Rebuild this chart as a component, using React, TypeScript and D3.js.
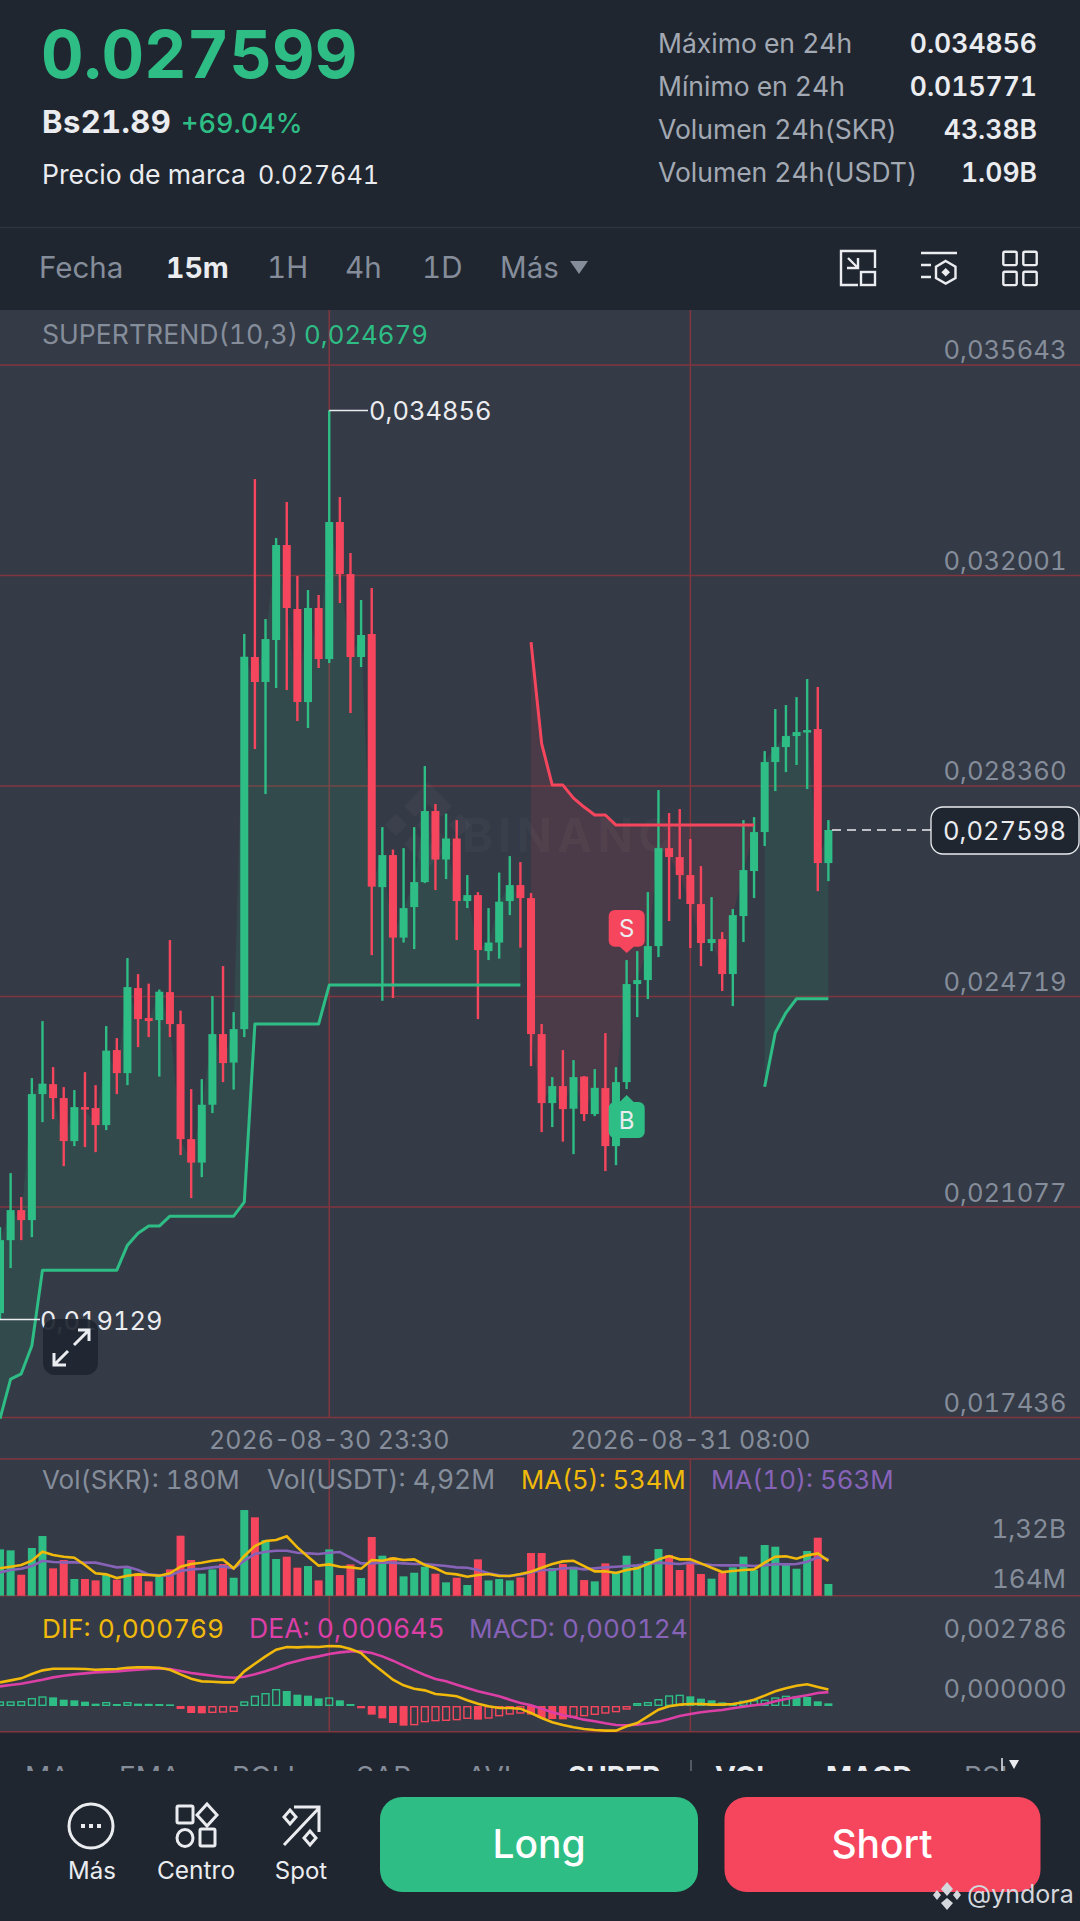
import * as d3 from "d3";

// prices are kept in millionths of USDT, the labels divide them back
const opens = [
  19241, 20504, 21023, 20850, 23030, 23202, 22961, 22217, 22805, 22788,
  22494, 23791, 23393, 24864, 24345, 24310, 24794, 24241, 22251, 21845,
  22846, 24068, 23575, 24154, 30590, 30158, 30884, 32527, 31420, 29811,
  31438, 30555, 32925, 32025, 30590, 30988, 26610, 27164, 25737, 26265,
  26697, 27926, 27087, 27451, 26369, 26472, 25503, 25651, 26369, 26645,
  26420, 24068, 22874, 23168, 22777, 23333, 22684, 23134, 22130, 23237,
  24933, 25002, 25590, 27285, 27130, 26818, 26317, 25642, 25711, 25106,
  26109, 26888, 27562, 28773, 29033, 29223, 29292, 29344, 27026,
];
const closes = [
  20504, 21023, 20850, 23030, 23211, 22961, 22217, 22805, 22770, 22494,
  23782, 23393, 24881, 24327, 24293, 24801, 24241, 22251, 21845, 22846,
  24068, 23566, 24154, 30595, 30158, 30901, 32527, 31438, 29811, 31438,
  30555, 32925, 32025, 30590, 30971, 26618, 27164, 25737, 26247, 26697,
  27926, 27087, 27451, 26369, 26472, 25521, 25651, 26358, 26645, 26420,
  24068, 22874, 23168, 22770, 23324, 22684, 23138, 22130, 23237, 24933,
  25002, 25590, 27285, 27130, 26818, 26317, 25642, 25711, 25106, 26126,
  26905, 27562, 28773, 29033, 29223, 29292, 29327, 27026, 27598,
];
const highs = [
  20729, 21663, 21248, 23307, 24293, 23497, 23151, 23099, 23410, 23185,
  24206, 23999, 25383, 25106, 24941, 24838, 25694, 24474, 23116, 23289,
  24725, 25244, 24448, 30988, 33668, 31247, 32648, 33271, 31991, 31749,
  31663, 34856, 33357, 32389, 31576, 31783, 27648, 27260, 27285, 27648,
  28704, 28047, 27882, 27769, 26818, 26524, 26247, 26862, 27147, 27043,
  26507, 24241, 23324, 23791, 23618, 23341, 23462, 24085, 23497, 25348,
  25503, 26524, 28289, 27891, 27961, 27441, 26974, 26438, 25832, 26230,
  27769, 27821, 28963, 29690, 29759, 29897, 30209, 30071, 27769,
];
const lows = [
  19129, 20020, 20504, 20556, 22545, 22597, 21784, 22130, 22113, 22026,
  22407, 23030, 23185, 23843, 24016, 23333, 24016, 21975, 21231, 21594,
  22701, 23237, 23108, 24016, 28998, 28220, 30054, 30019, 29482, 29362,
  30400, 30486, 31524, 29621, 30417, 25434, 24644, 24691, 25651, 25538,
  26680, 26559, 26749, 25694, 26247, 24327, 25348, 25373, 26126, 25564,
  23514, 22372, 22459, 22208, 21991, 22563, 22649, 21698, 21801, 23116,
  24362, 24673, 25400, 26023, 26403, 25556, 25244, 25503, 24812, 24552,
  25660, 26420, 27320, 28271, 28600, 28722, 28306, 26541, 26714,
];

// supertrend runs: up from candle 0, down from 50, up again from 72
const superUpA = [
  17415, 18100, 18192, 18677, 19985, 19985, 19985, 19985, 19985, 19985,
  19985, 19985, 20417, 20625, 20747, 20747, 20919, 20919, 20919, 20919,
  20919, 20919, 20919, 21161, 24241, 24241, 24241, 24241, 24241, 24241,
  24241, 24915, 24915, 24915, 24915, 24915, 24915, 24915, 24915, 24915,
  24915, 24915, 24915, 24915, 24915, 24915, 24915, 24915, 24915, 24915,
];
const superDown = [
  30849, 29093, 28375, 28375, 28150, 27995, 27857, 27857, 27683, 27683,
  27683, 27683, 27683, 27683, 27683, 27683, 27683, 27683, 27683, 27683,
  27683, 27683,
];
const superUpB = [23156, 24090, 24436, 24679, 24679, 24679, 24679];

// volume in millions of SKR
const volumes = [
  711, 696, 322, 732, 916, 420, 548, 256, 256, 235, 317, 246, 420, 343, 220,
  292, 404, 921, 548, 338, 404, 486, 276, 1315, 1203, 855, 563, 599, 430, 455,
  235, 711, 317, 481, 271, 901, 614, 588, 297, 353, 445, 338, 205, 276, 164,
  558, 235, 256, 235, 281, 655, 655, 425, 486, 445, 240, 220, 496, 368, 614,
  471, 532, 716, 624, 394, 522, 333, 261, 353, 435, 599, 394, 778, 752, 496,
  414, 686, 890, 180,
];
const volMa5 = [
  420, 445, 471, 537, 675, 624, 599, 583, 471, 343, 327, 271, 307, 327, 317,
  307, 343, 445, 486, 507, 537, 553, 420, 609, 762, 839, 855, 911, 742, 599,
  461, 481, 445, 435, 414, 548, 537, 573, 548, 558, 471, 420, 343, 327, 292,
  317, 333, 302, 302, 333, 368, 430, 486, 527, 537, 455, 374, 374, 348, 394,
  420, 486, 558, 609, 558, 558, 496, 430, 363, 379, 394, 404, 507, 599, 604,
  568, 619, 650, 534,
];
const volMa10 = [
  358, 394, 414, 455, 537, 517, 512, 512, 507, 507, 471, 435, 445, 394, 327,
  312, 307, 379, 404, 414, 435, 450, 420, 537, 640, 675, 691, 691, 660, 650,
  640, 660, 670, 583, 496, 496, 512, 507, 496, 486, 486, 471, 455, 435, 430,
  394, 343, 312, 302, 322, 358, 394, 394, 420, 425, 404, 420, 435, 445, 455,
  466, 486, 507, 496, 486, 507, 486, 471, 466, 466, 466, 455, 466, 486, 481,
  486, 522, 588, 563,
];

// macd, millionths as well
const dif = [
  1098, 1191, 1284, 1485, 1655, 1733, 1733, 1733, 1717, 1686, 1702, 1717, 1779,
  1795, 1795, 1779, 1686, 1470, 1269, 1145, 1129, 1098, 1098, 1609, 1965, 2305,
  2614, 2738, 2723, 2754, 2738, 2786, 2770, 2645, 2460, 1996, 1609, 1222, 959,
  804, 727, 557, 511, 449, 263, 108, -15, -93, -93, -124, -325, -557, -758,
  -882, -990, -1067, -1114, -1145, -1145, -944, -789, -480, -170, -15, 62, 93,
  93, 62, 62, 93, 170, 294, 480, 681, 820, 944, 1006, 882, 769,
];
const dea = [
  913, 975, 1036, 1129, 1222, 1330, 1408, 1470, 1516, 1562, 1578, 1609, 1655,
  1686, 1717, 1748, 1717, 1624, 1532, 1470, 1408, 1346, 1315, 1361, 1470, 1609,
  1779, 1965, 2088, 2212, 2305, 2413, 2491, 2537, 2537, 2460, 2305, 2104, 1872,
  1655, 1439, 1253, 1145, 990, 835, 681, 572, 449, 294, 139, 31, -124, -294,
  -418, -526, -634, -712, -804, -882, -897, -866, -804, -727, -603, -464, -371,
  -294, -232, -186, -108, -31, 31, 93, 217, 325, 418, 495, 603, 645,
];
const macdHist = [
  217, 217, 232, 371, 449, 402, 294, 263, 201, 108, 186, 93, 186, 108, 100, 93,
  77, -139, -325, -340, -325, -310, -278, 217, 480, 603, 789, 696, 526, 480,
  356, 402, 263, 93, -108, -402, -572, -789, -913, -897, -758, -712, -696, -665,
  -603, -634, -588, -480, -402, -356, -402, -557, -603, -619, -510, -480, -418,
  -356, -294, -170, 139, 186, 325, 495, 526, 449, 340, 263, 170, 139, 248, 278,
  294, 402, 480, 449, 418, 217, 124,
];

const priceTicks = [35643, 32001, 28360, 24719, 21077, 17436];
const timeLabels = [
  { i: 31, text: "2026-08-30 23:30" },
  { i: 65, text: "2026-08-31 08:00" },
];
const statsRows = [
  ["Máximo en 24h", "0.034856"],
  ["Mínimo en 24h", "0.015771"],
  ["Volumen 24h(SKR)", "43.38B"],
  ["Volumen 24h(USDT)", "1.09B"],
];
const periods = ["Fecha", "15m", "1H", "4h", "1D", "Más"];
const periodX = [39, 166, 267, 345, 422, 500];
const indicatorTabs = ["MA", "EMA", "BOLL", "SAR", "AVL", "SUPER", "VOL", "MACD", "RSI"];
const indicatorX = [25, 119, 232, 356, 467, 568, 715, 826, 964];

const GREEN = "#2ebd85";
const RED = "#f6465d";
const BG = "#1f2630";
const PANEL = "#343a46";
const GRID = "#80363f";
const MUTED = "#858d9a";
const WHITE = "#eaecef";
const ORANGE = "#f0b90b";
const PURPLE = "#8763b8";
const PINK = "#dc3fa6";
const FONT = 'Inter, "Noto Sans", sans-serif';

const width = 1080;
const height = 1921;
const panelTop = 310;
const panelBottom = 1732;

const x = d3.scaleLinear([0, 78], [0, 828.4]);
const y = d3.scaleLinear([17436, 35643], [1417.5, 364.9]);
const volY = d3.scaleLinear([0, 1320], [1595.7, 1509.7]);
const macdY = d3.scaleLinear([0, 2786], [1706, 1646]);

const comma6 = (v: number) => d3.format(".6f")(v / 1e6).replace(".", ",");

const seriesLine = (scale: d3.ScaleLinear<number, number>, start = 0) =>
  d3.line<number>((_, i) => x(i + start), d => scale(d));

const trendArea = (start: number) =>
  d3.area<number>()
    .x((_, i) => x(i + start))
    .y0(d => y(d))
    .y1((_, i) => y(closes[i + start]));

const bodyWidth = 8;
const wickWidth = 2.4;

export default function App() {
  const candles = d3.range(opens.length);
  const iconStroke = { fill: "none", stroke: WHITE, strokeWidth: 2.4 };
  const barIconStroke = { fill: "none", stroke: WHITE, strokeWidth: 3 };

  return (
    <svg
      width={width}
      height={height}
      viewBox={`0 0 ${width} ${height}`}
      style={{ position: "absolute", left: 0, top: 0, display: "block", fontFeatureSettings: '"tnum"' }}
      fontFamily={FONT}
    >
      <defs>
        <clipPath id="tabs-clip">
          <rect x={0} y={1733} width={width} height={38} />
        </clipPath>
      </defs>
      <rect width={width} height={height} fill={BG} />

      {/* header */}
      <text x={41} y={78} fontSize={66} fontWeight={700} fill={GREEN}>0.027599</text>
      <text x={42} y={133} fontSize={31} fontWeight={700} letterSpacing={0.4} fill={WHITE}>Bs21.89</text>
      <text x={181} y={133} fontSize={27} fontWeight={500} fill={GREEN}>+69.04%</text>
      <text x={42} y={184} fontSize={26.6} fill={WHITE}>Precio de marca</text>
      <text x={258} y={184} fontSize={25.2} fill={WHITE}>0.027641</text>
      {statsRows.map(([label, value], i) => (
        <g key={label}>
          <text x={658} y={53 + i * 43} fontSize={26.5} fill="#a3a9b3">{label}</text>
          <text x={1037} y={53 + i * 43} fontSize={26.5} fontWeight={600} fill={WHITE} textAnchor="end">{value}</text>
        </g>
      ))}
      <line x1={0} x2={width} y1={227.5} y2={227.5} stroke="#2e3540" strokeWidth={1.5} />

      {/* period toolbar */}
      {periods.map((p, i) => (
        <text key={p} x={periodX[i]} y={278} fontSize={p === "15m" ? 28.5 : 29.5} fontWeight={p === "15m" ? 700 : 400}
          fill={p === "15m" ? WHITE : MUTED}>{p}</text>
      ))}
      <path d="M570 261H588L579 274Z" fill={MUTED} />
      <g {...iconStroke}>
        <path d="M875 268V251H841V285H858" />
        <rect x={861} y={272} width={14} height={13} />
        <path d="M848 258L858 268M847 268H858V258" />
        <path d="M921 253H957M921 265H931M921 277H931" />
        <path d="M945.7 261L955.5 266.6V278L945.7 283.6L936 278V266.6Z" />
        <rect x={1003.3} y={251.7} width={13.4} height={13.4} rx={1.5} />
        <rect x={1023.3} y={251.7} width={13.4} height={13.4} rx={1.5} />
        <rect x={1003.3} y={271.7} width={13.4} height={13.4} rx={1.5} />
        <rect x={1023.3} y={271.7} width={13.4} height={13.4} rx={1.5} />
      </g>
      <path d="M945.7 268L950 272.3L945.7 276.6L941.4 272.3Z" fill={WHITE} />

      {/* chart panel and grid */}
      <rect x={0} y={panelTop} width={width} height={panelBottom - panelTop} fill={PANEL} />
      {priceTicks.map(t => (
        <line key={t} x1={0} x2={width} y1={y(t)} y2={y(t)} stroke={GRID} strokeWidth={1.5} />
      ))}
      {[1459, 1595.7, 1731.7].map(v => (
        <line key={v} x1={0} x2={width} y1={v} y2={v} stroke={GRID} strokeWidth={1.5} />
      ))}
      {timeLabels.map(t => (
        <g key={t.i} stroke={GRID} strokeWidth={1.5}>
          <line x1={x(t.i)} x2={x(t.i)} y1={panelTop} y2={y(17436)} />
          <line x1={x(t.i)} x2={x(t.i)} y1={1459} y2={1731.7} />
        </g>
      ))}

      {/* faint exchange mark */}
      <g fill="#fff" fillOpacity={0.035}>
        <path d="M428 782L452 806L441 817L428 804L415 817L404 806ZM396 814L407 825L396 836L385 825ZM460 814L471 825L460 836L449 825ZM428 812L439 825L428 838L417 825ZM415 833L428 846L441 833L452 844L428 868L404 844Z" />
        <text x={462} y={852} fontSize={47} fontWeight={700} letterSpacing={5}>BINANC</text>
      </g>

      {/* supertrend bands */}
      <path d={trendArea(0)(superUpA) ?? ""} fill={GREEN} fillOpacity={0.13} />
      <path d={trendArea(50)(superDown) ?? ""} fill={RED} fillOpacity={0.12} />
      <path d={trendArea(72)(superUpB) ?? ""} fill={GREEN} fillOpacity={0.13} />

      {/* candles */}
      {candles.map(i => {
        const up = closes[i] >= opens[i];
        const top = y(Math.max(opens[i], closes[i]));
        const bottom = y(Math.min(opens[i], closes[i]));
        const color = up ? GREEN : RED;
        return (
          <g key={i} fill={color}>
            <rect x={x(i) - wickWidth / 2} y={y(highs[i])} width={wickWidth} height={y(lows[i]) - y(highs[i])} />
            <rect x={x(i) - bodyWidth / 2} y={top} width={bodyWidth} height={Math.max(bottom - top, 2.5)} />
          </g>
        );
      })}

      {/* supertrend lines */}
      <g fill="none" strokeWidth={3} strokeLinejoin="round">
        <path d={seriesLine(y, 0)(superUpA) ?? ""} stroke={GREEN} />
        <path d={seriesLine(y, 50)(superDown) ?? ""} stroke={RED} />
        <path d={seriesLine(y, 72)(superUpB) ?? ""} stroke={GREEN} />
      </g>

      {/* buy and sell flags */}
      <g>
        <path d="M614.7 910H638.7A6 6 0 0 1 644.7 916V940.7A6 6 0 0 1 638.7 946.7H633.7L626.7 953L619.7 946.7H614.7A6 6 0 0 1 608.7 940.7V916A6 6 0 0 1 614.7 910Z" fill={RED} />
        <text x={626.7} y={937} fontSize={24} fill={WHITE} textAnchor="middle">S</text>
        <path d="M614.7 1138H638.7A6 6 0 0 0 644.7 1132V1108A6 6 0 0 0 638.7 1102H633.7L626.7 1095L619.7 1102H614.7A6 6 0 0 0 608.7 1108V1132A6 6 0 0 0 614.7 1138Z" fill={GREEN} />
        <text x={626.7} y={1129} fontSize={24} fill={WHITE} textAnchor="middle">B</text>
      </g>

      {/* high, low and last price */}
      <line x1={x(31)} x2={368} y1={y(34856)} y2={y(34856)} stroke={WHITE} strokeWidth={1.5} />
      <text x={369} y={y(34856) + 9.5} fontSize={25.5} fill={WHITE}>{comma6(34856)}</text>
      <line x1={x(0)} x2={40} y1={y(19129)} y2={y(19129)} stroke={WHITE} strokeWidth={1.5} />
      <text x={40} y={y(19129) + 10} fontSize={25.5} fill={WHITE}>{comma6(19129)}</text>
      <rect x={43} y={1319} width={55} height={56} rx={12} fill="#1f2630" fillOpacity={0.93} />
      <path d="M74 1345L88 1331M78 1330H89V1341M68 1351L55 1364M54 1353V1365H66" fill="none" stroke={WHITE} strokeWidth={3} />

      <line x1={832} x2={931} y1={y(27598)} y2={y(27598)} stroke={WHITE} strokeWidth={1.3} strokeDasharray="9 6" />
      <rect x={931} y={807} width={148} height={47} rx={12} fill={BG} stroke={WHITE} strokeWidth={1.3} />
      <text x={1066} y={840} fontSize={25.6} fill={WHITE} textAnchor="end">{comma6(27598)}</text>

      {/* price axis */}
      <text x={42} y={344} fontSize={26.6} fill={MUTED}>SUPERTREND(10,3)</text>
      <text x={304} y={344} fontSize={25.8} fill={GREEN}>0,024679</text>
      {priceTicks.map(t => (
        <text key={t} x={1066.5} y={y(t) - 5.5} fontSize={25.6} fill={MUTED} textAnchor="end">{comma6(t)}</text>
      ))}
      {timeLabels.map(t => (
        <text key={t.i} x={x(t.i)} y={1449} fontSize={25} fill={MUTED} textAnchor="middle">{t.text}</text>
      ))}

      {/* volume pane */}
      <text x={42} y={1489} fontSize={26} fill={MUTED}>Vol(SKR): 180M</text>
      <text x={267} y={1489} fontSize={26.4} fill={MUTED}>Vol(USDT): 4,92M</text>
      <text x={521} y={1489} fontSize={25.7} fill={ORANGE}>MA(5): 534M</text>
      <text x={711} y={1489} fontSize={25.9} fill={PURPLE}>MA(10): 563M</text>
      <text x={1066} y={1538} fontSize={26} fill={MUTED} textAnchor="end">1,32B</text>
      <text x={1066} y={1588} fontSize={26} fill={MUTED} textAnchor="end">164M</text>
      {volumes.map((v, i) => (
        <rect key={i} x={x(i) - bodyWidth / 2} y={volY(v)} width={bodyWidth} height={volY(0) - volY(v)}
          fill={closes[i] >= opens[i] ? GREEN : RED} />
      ))}
      <path d={seriesLine(volY)(volMa10) ?? ""} fill="none" stroke={PURPLE} strokeWidth={2.6} />
      <path d={seriesLine(volY)(volMa5) ?? ""} fill="none" stroke={ORANGE} strokeWidth={2.6} />

      {/* macd pane */}
      <text x={42} y={1638} fontSize={26.3} fill={ORANGE}>DIF: 0,000769</text>
      <text x={249} y={1638} fontSize={26.6} fill={PINK}>DEA: 0,000645</text>
      <text x={469} y={1638} fontSize={26.2} fill={PURPLE}>MACD: 0,000124</text>
      <text x={1066.5} y={1638} fontSize={25.6} fill={MUTED} textAnchor="end">0,002786</text>
      <text x={1066.5} y={1698} fontSize={25.6} fill={MUTED} textAnchor="end">0,000000</text>
      {macdHist.map((v, i) => {
        const color = v >= 0 ? GREEN : RED;
        const rising = i === 0 || v >= macdHist[i - 1];
        const top = macdY(Math.max(v, 0));
        const h = Math.abs(macdY(v) - macdY(0));
        return rising ? (
          <rect key={i} x={x(i) - 3.4} y={top + 0.7} width={6.8} height={Math.max(h - 1.4, 0.4)}
            fill="none" stroke={color} strokeWidth={1.4} />
        ) : (
          <rect key={i} x={x(i) - 4} y={top} width={bodyWidth} height={Math.max(h, 1.4)} fill={color} />
        );
      })}
      <path d={seriesLine(macdY)(dea) ?? ""} fill="none" stroke={PINK} strokeWidth={2.6} />
      <path d={seriesLine(macdY)(dif) ?? ""} fill="none" stroke={ORANGE} strokeWidth={2.6} />

      {/* indicator tabs, cut off by the action bar */}
      <g clipPath="url(#tabs-clip)">
        {indicatorTabs.map((t, i) => {
          const active = t === "SUPER" || t === "VOL" || t === "MACD";
          return (
            <text key={t} x={indicatorX[i]} y={1787} fontSize={28} fontWeight={active ? 700 : 400}
              fill={active ? WHITE : MUTED}>{t}</text>
          );
        })}
        <line x1={691} x2={691} y1={1760} y2={1771} stroke={MUTED} strokeWidth={1} />
        <line x1={1002} x2={1002} y1={1758} y2={1771} stroke={WHITE} strokeWidth={1.5} />
        <path d="M1009 1760H1019L1014 1769Z" fill={WHITE} />
      </g>

      {/* action bar */}
      <circle cx={91} cy={1826} r={22} {...barIconStroke} />
      <path d="M81 1826h4M89 1826h4M97 1826h4" stroke={WHITE} strokeWidth={4} />
      <g {...barIconStroke}>
        <rect x={177} y={1806} width={16} height={17} rx={1.5} />
        <path d="M207 1804L217 1815L207 1826L197 1815Z" />
        <ellipse cx={185} cy={1838} rx={8} ry={8.5} />
        <rect x={200} y={1829} width={15} height={17} rx={1.5} />
        <path d="M284 1845L319 1808M294 1807H319V1832" />
        <path d="M290 1810L296 1817L290 1824L284 1817Z" />
        <path d="M310 1831L316 1838L310 1845L304 1838Z" />
      </g>
      <text x={92} y={1879} fontSize={24} fill={WHITE} textAnchor="middle">Más</text>
      <text x={196} y={1879} fontSize={24.5} fill={WHITE} textAnchor="middle">Centro</text>
      <text x={301} y={1879} fontSize={24} fill={WHITE} textAnchor="middle">Spot</text>

      <rect x={380} y={1797} width={318} height={95} rx={22} fill={GREEN} />
      <text x={539} y={1858} fontSize={39} fontWeight={500} fill="#fff" textAnchor="middle">Long</text>
      <rect x={724.5} y={1797} width={316} height={95} rx={22} fill={RED} />
      <text x={882} y={1858} fontSize={39} fontWeight={500} fill="#fff" textAnchor="middle">Short</text>

      {/* reposter mark */}
      <path d="M947 1882L953 1889L947 1896L941 1889ZM937 1890L941 1895L937 1900L933 1895ZM957 1890L961 1895L957 1900L953 1895ZM947 1898L953 1903L947 1910L941 1903Z" fill="#d4d7dc" />
      <text x={967} y={1903} fontSize={25} fill="#d4d7dc">@yndora</text>
    </svg>
  );
}
